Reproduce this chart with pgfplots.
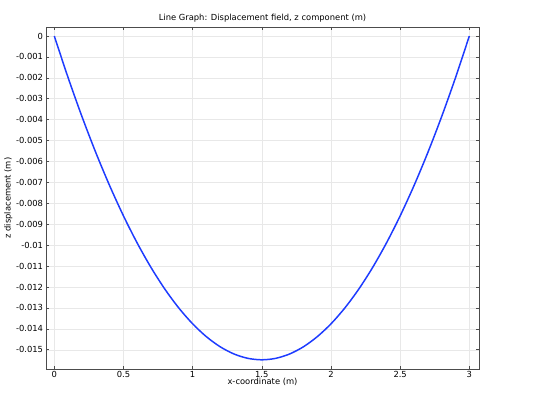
\documentclass[border=0pt]{standalone}
\usepackage{pgfplots}
\pgfplotsset{compat=1.18}
\usepackage{fontspec}
\setmainfont{DejaVu Sans}
\begin{document}
\fontsize{8.4}{10}\selectfont
\begin{tikzpicture}[x=1bp,y=1bp]
\useasboundingbox (0,0) rectangle (541,394);
\begin{axis}[
  at={(46bp,25bp)}, anchor=south west,
  scale only axis, width=433bp, height=342bp,
  xmin=-0.06, xmax=3.07, ymin=-0.01592, ymax=0.00043,
  xtick={0,0.5,1,1.5,2,2.5,3},
  ytick={0,-0.001,-0.002,-0.003,-0.004,-0.005,-0.006,-0.007,-0.008,-0.009,-0.01,-0.011,-0.012,-0.013,-0.014,-0.015},
  yticklabels={0,-0.001,-0.002,-0.003,-0.004,-0.005,-0.006,-0.007,-0.008,-0.009,-0.01,-0.011,-0.012,-0.013,-0.014,-0.015},
  xticklabels={0,0.5,1,1.5,2,2.5,3},
  scaled y ticks=false,
  tick align=inside, tick pos=both,
  major tick length=3bp,
  grid=major,
  major grid style={draw=gray!18, line width=0.5pt},
  axis line style={draw=black!70, line width=0.8pt},
  tick style={draw=black!70, line width=0.6pt},
  ticklabel style={font=\fontsize{8.4}{10}\selectfont},
  xticklabel style={yshift=1bp},
  title={Line Graph: Displacement field, z component (m)},
  title style={font=\fontsize{8.4}{10}\selectfont, yshift=-4bp},
  xlabel={x-coordinate (m)},
  ylabel={z displacement (m)},
  xlabel style={font=\fontsize{8.4}{10}\selectfont, yshift=5bp},
  ylabel style={font=\fontsize{8.4}{10}\selectfont, yshift=-2bp},
]
\addplot[color={rgb,255:red,30;green,60;blue,255}, line width=1.5pt, smooth] coordinates {
(0,0) (0.1,-0.001995) (0.2,-0.003853) (0.3,-0.005573) (0.4,-0.007155)
(0.5,-0.008600) (0.6,-0.009907) (0.7,-0.011077) (0.8,-0.012109) (0.9,-0.013003)
(1.0,-0.013760) (1.1,-0.014379) (1.2,-0.014861) (1.3,-0.015205) (1.4,-0.015411)
(1.5,-0.015480) (1.6,-0.015411) (1.7,-0.015205) (1.8,-0.014861) (1.9,-0.014379)
(2.0,-0.013760) (2.1,-0.013003) (2.2,-0.012109) (2.3,-0.011077) (2.4,-0.009907)
(2.5,-0.008600) (2.6,-0.007155) (2.7,-0.005573) (2.8,-0.003853) (2.9,-0.001995)
(3.0,0)
};
\end{axis}
\end{tikzpicture}
\end{document}
